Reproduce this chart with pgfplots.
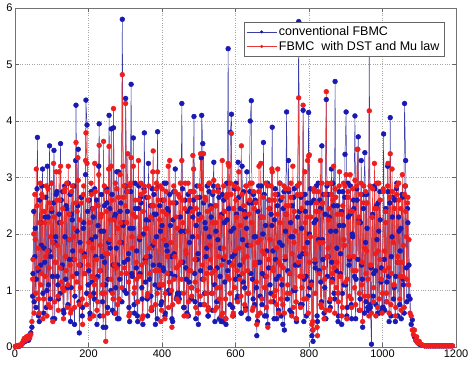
\documentclass[border=0pt]{standalone}
\usepackage{fontspec}
\setmainfont{Liberation Sans}
\usepackage{pgfplots}
\pgfplotsset{compat=1.18}
\usepackage{pgfplotstable}
\definecolor{bdot}{RGB}{25,25,180}
\definecolor{bline}{RGB}{60,60,165}
\definecolor{rdot}{RGB}{238,30,30}
\definecolor{rline}{RGB}{230,55,55}

\pgfplotstableread{
x b r
1 0.01 0.01
4 0.01 0.02
7 0.02 0.01
10 0.01 0.03
13 0.02 0.02
16 0.03 0.04
19 0.05 0.06
22 0.08 0.10
25 0.12 0.15
28 0.10 0.12
31 0.15 0.18
34 0.18 0.14
37 0.12 0.20
40 0.20 0.16
43 0.25 0.22
46 0.35 0.45
49 1.30 1.55
52 0.80 0.60
55 2.10 1.90
58 1.20 3.15
61 3.71 1.40
64 0.55 0.85
67 2.60 2.20
70 1.45 1.10
73 2.85 2.70
76 0.95 0.50
79 1.75 2.40
82 2.30 1.25
85 0.70 2.85
88 3.20 1.70
91 1.10 0.75
94 3.56 2.55
97 1.60 1.95
100 2.40 2.90
103 0.50 0.45
106 3.48 2.30
109 1.85 1.50
112 2.70 3.10
115 1.25 1.80
118 0.85 0.65
121 2.20 2.60
124 3.60 3.20
127 1.40 1.15
130 2.75 2.45
133 0.60 1.00
136 1.95 2.80
139 2.50 1.35
142 1.05 0.70
145 2.90 3.20
148 1.55 1.90
151 0.45 0.60
154 2.35 2.75
157 1.70 1.25
160 2.85 2.10
163 0.90 1.55
166 4.28 3.62
169 2.05 2.40
172 3.50 2.95
175 0.25 0.75
178 1.45 1.05
181 2.65 2.55
184 0.70 0.40
187 2.20 2.85
190 1.30 1.60
193 4.37 3.79
196 3.93 3.25
199 1.10 1.45
202 2.60 2.20
205 0.55 0.90
208 1.90 2.70
211 2.45 1.75
214 0.95 0.55
217 2.80 3.25
220 1.60 1.20
223 0.40 0.65
226 2.15 2.50
229 3.95 3.57
232 1.35 1.80
235 2.70 2.35
238 0.80 1.10
241 2.05 3.64
244 1.50 0.95
247 0.35 0.10
250 2.55 2.75
253 1.20 1.65
256 4.10 3.55
259 1.75 2.25
262 3.86 3.20
265 0.65 0.95
268 3.88 4.22
271 2.30 1.45
274 1.05 0.60
277 3.10 2.80
280 1.45 2.10
283 0.50 0.85
286 2.40 3.05
289 1.85 1.30
292 5.80 4.82
295 2.20 2.65
298 1.00 1.40
301 4.40 4.31
304 2.75 2.20
307 1.55 3.42
310 0.70 0.55
313 2.10 2.85
316 4.65 3.35
319 1.25 1.75
322 3.70 3.20
325 0.60 1.05
328 2.45 2.30
331 1.70 1.20
334 0.45 0.80
337 2.85 2.60
340 1.30 1.95
343 2.55 2.90
346 0.85 0.50
349 2.00 2.40
352 3.79 2.75
355 1.15 1.50
358 2.65 2.10
361 0.55 0.95
364 2.25 2.85
367 1.60 1.30
370 0.90 0.65
373 2.80 2.50
376 1.45 3.47
379 2.35 1.85
382 0.40 0.75
385 1.95 2.90
388 3.81 3.10
391 1.05 1.35
394 2.50 2.25
397 0.75 0.45
400 2.15 2.80
403 1.40 1.10
406 2.90 2.60
409 0.60 0.95
412 1.80 2.35
415 2.45 1.60
418 1.00 0.70
421 2.70 3.30
424 1.30 1.85
427 0.50 0.35
430 2.25 2.55
433 1.65 1.20
436 3.15 2.75
439 0.85 1.40
442 0.95 2.10
445 0.90 0.80
448 0.95 2.65
451 2.05 1.50
454 4.31 3.30
457 1.50 2.20
460 0.70 0.55
463 2.60 2.90
466 1.20 1.65
469 2.40 2.05
472 0.55 0.80
475 1.85 2.60
478 2.75 1.35
481 1.05 0.90
484 2.30 3.39
487 4.08 2.75
490 0.80 1.15
493 2.15 2.45
496 1.55 1.00
499 0.40 0.60
502 2.65 2.85
505 1.35 3.42
508 4.10 2.30
511 3.60 3.42
514 0.75 1.20
517 2.20 2.65
520 1.60 0.95
523 2.85 2.40
526 0.55 0.70
529 1.95 2.90
532 2.50 1.55
535 0.95 1.30
538 2.70 2.20
541 3.27 2.95
544 0.45 0.65
547 2.05 2.50
550 1.40 1.05
553 2.80 2.75
556 0.50 0.85
559 1.75 2.30
562 2.35 1.45
565 0.45 0.60
568 2.60 2.85
571 1.15 1.60
574 0.40 0.50
577 2.25 2.70
580 5.28 3.25
583 1.50 1.20
586 3.80 2.90
589 4.12 3.78
592 0.70 0.55
595 2.10 2.45
598 1.65 1.05
601 2.90 2.60
604 0.85 1.35
607 3.27 2.80
610 1.25 1.75
613 2.45 2.15
616 0.60 3.56
619 1.90 1.30
622 2.75 2.50
625 1.05 0.75
628 2.30 2.85
631 3.10 1.60
634 0.50 0.95
637 2.55 2.35
640 4.00 2.90
643 4.36 2.20
646 1.20 0.65
649 2.70 2.75
652 0.75 1.45
655 1.95 2.55
658 0.20 0.40
661 2.40 1.85
664 1.50 3.20
667 0.90 0.60
670 2.85 2.30
673 1.30 1.70
676 3.62 2.65
679 0.55 1.05
682 2.15 2.90
685 1.70 1.25
688 0.40 0.35
691 2.60 2.45
694 1.10 1.90
697 2.35 2.85
700 3.89 3.10
703 0.80 1.35
706 2.25 2.60
709 1.55 1.00
712 0.50 0.75
715 2.70 3.15
718 1.25 1.50
721 2.90 2.20
724 0.55 0.85
727 1.80 2.65
730 2.45 1.40
733 0.30 0.60
736 2.05 2.80
739 4.16 2.35
742 1.35 1.10
745 2.75 2.50
748 0.65 0.95
751 1.95 2.90
754 2.50 1.65
757 1.00 0.70
760 2.80 2.40
763 1.45 2.05
766 0.45 0.50
769 2.30 2.85
772 5.76 4.41
775 1.60 1.25
778 2.65 2.70
781 0.75 1.05
784 4.19 4.28
787 1.20 1.75
790 2.40 2.20
793 0.55 0.85
796 1.85 3.30
799 4.15 3.38
802 1.05 1.50
805 2.55 2.30
808 0.20 0.40
811 0.10 0.30
814 2.20 2.75
817 1.40 0.95
820 2.85 2.55
823 0.45 0.20
826 1.90 2.40
829 2.60 1.30
832 1.15 0.75
835 3.56 2.90
838 1.55 1.85
841 0.60 0.50
844 2.35 2.70
847 4.38 4.52
850 1.25 1.60
853 2.70 2.25
856 0.80 0.65
859 2.05 2.90
862 1.50 1.15
865 2.90 2.60
868 0.95 1.40
871 4.70 2.80
874 1.35 1.05
877 2.50 2.35
880 0.55 0.80
883 2.15 3.10
886 1.65 1.25
889 0.40 0.55
892 2.75 2.50
895 1.10 1.90
898 3.41 2.85
901 4.16 3.05
904 0.70 1.20
907 2.30 2.65
910 1.55 0.90
913 2.85 2.40
916 0.50 0.70
919 1.95 2.80
922 2.45 1.60
925 4.09 2.95
928 1.20 1.35
931 2.60 3.50
934 3.72 2.20
937 0.65 0.95
940 2.20 2.70
943 1.45 1.10
946 0.35 0.45
949 2.70 2.85
952 3.44 1.75
955 0.80 1.30
958 2.10 2.55
961 0.65 0.90
964 5.40 4.18
967 0.70 1.45
970 0.05 0.60
973 2.35 2.80
976 1.30 1.05
979 2.80 2.45
982 0.75 0.55
985 1.90 2.90
988 2.55 1.70
991 0.60 0.85
994 2.25 2.60
997 1.40 1.20
1000 0.70 0.95
1003 3.77 2.75
1006 0.65 1.35
1009 2.45 2.20
1012 1.15 0.80
1015 2.75 3.25
1018 0.45 0.60
1021 4.06 3.42
1024 1.60 1.30
1027 2.30 2.75
1030 0.85 1.10
1033 2.60 2.45
1036 1.25 0.70
1039 2.90 2.85
1042 0.55 1.50
1045 2.05 2.60
1048 1.70 1.25
1051 0.50 0.65
1054 2.65 3.05
1057 1.10 1.80
1060 4.31 2.70
1063 3.30 2.40
1066 0.80 1.20
1069 2.20 2.65
1072 1.45 1.90
1075 0.85 0.60
1078 0.40 0.55
1081 0.48 0.30
1084 0.30 0.22
1087 0.18 0.30
1090 0.15 0.12
1093 0.10 0.18
1096 0.08 0.07
1100 0.05 0.10
1105 0.04 0.05
1110 0.03 0.03
1115 0.02 0.02
1120 0.02 0.02
1125 0.02 0.02
1130 0.02 0.02
1135 0.02 0.02
1140 0.02 0.02
1145 0.02 0.02
1150 0.02 0.02
1155 0.02 0.02
1160 0.02 0.02
1165 0.02 0.02
1170 0.02 0.02
1175 0.02 0.02
1180 0.02 0.02
1185 0.02 0.02
1190 0.02 0.02
}\data

\pgfplotstableread{
x b r
48 0.90 1.20
51 2.40 2.00
54 1.60 2.70
57 0.70 0.95
60 2.80 2.50
63 1.35 1.75
66 0.45 0.60
69 2.20 2.90
72 1.80 1.30
75 3.15 2.65
78 0.60 0.85
81 1.50 2.20
84 2.65 1.60
87 1.00 0.55
90 2.30 2.80
93 1.70 1.40
96 0.85 0.70
99 2.90 2.45
102 1.25 1.85
105 2.55 3.25
108 0.50 0.80
111 1.95 1.50
114 2.75 2.60
117 1.10 0.90
120 2.35 3.10
123 0.95 1.40
126 2.60 2.20
129 1.45 1.05
132 0.65 0.50
135 2.85 2.75
138 1.20 1.60
141 2.45 2.90
144 0.75 1.10
147 1.90 2.35
150 2.70 1.45
153 1.05 0.65
156 2.25 2.85
159 1.55 1.95
162 0.40 0.70
165 3.30 2.55
168 1.30 1.15
171 2.50 3.35
174 0.80 1.45
177 1.85 2.25
180 2.65 1.70
183 0.55 0.85
186 2.10 2.70
189 1.65 1.30
192 3.05 3.30
195 0.95 0.75
198 2.40 2.60
201 1.35 1.85
204 0.60 0.50
207 2.75 2.90
210 1.15 1.25
213 2.30 2.45
216 0.85 1.10
219 1.95 2.75
222 2.60 1.55
225 1.25 0.80
228 3.20 3.05
231 0.55 1.35
234 2.05 2.30
237 1.60 0.95
240 0.35 0.55
243 2.50 2.85
246 1.10 1.65
249 2.80 2.40
252 0.70 0.60
255 1.85 3.15
258 2.45 1.90
261 1.00 1.20
264 2.70 2.60
267 1.45 0.85
270 0.60 2.25
273 2.35 2.90
276 1.75 1.40
279 0.50 0.75
282 3.10 2.65
285 1.20 1.85
288 2.55 2.20
291 0.80 1.05
294 2.15 3.20
297 1.50 2.85
300 2.85 2.50
303 0.95 1.30
306 2.40 2.75
309 1.65 1.15
312 0.45 0.60
315 2.75 2.90
318 1.30 1.95
321 2.10 2.35
324 0.75 0.95
327 2.90 2.60
330 1.40 1.50
333 0.55 0.80
336 2.45 3.30
339 1.90 1.25
342 2.65 2.70
345 1.05 1.45
348 0.40 0.55
351 2.80 2.85
354 1.55 2.10
357 2.25 1.60
360 0.85 0.90
363 3.25 2.65
366 1.20 1.75
369 2.50 2.30
372 0.65 0.70
375 1.80 3.10
378 2.70 2.50
381 1.10 1.35
384 2.35 2.80
387 0.50 0.95
390 2.85 2.60
393 1.45 1.10
396 2.05 2.85
399 0.80 0.65
402 2.60 2.40
405 1.35 1.90
408 0.55 0.50
411 2.90 2.75
414 1.70 1.30
417 2.40 3.20
420 0.95 1.15
423 2.15 2.55
426 1.60 1.00
429 0.45 0.75
432 2.75 2.85
435 1.25 1.60
438 2.55 2.30
441 0.90 0.85
444 0.95 2.70
447 0.85 1.45
450 2.30 2.90
453 1.50 1.20
456 2.80 2.60
459 0.70 0.95
462 2.05 2.45
465 1.40 1.70
468 0.60 0.55
471 2.70 2.90
474 1.15 1.35
477 2.45 2.75
480 0.85 1.05
483 1.95 2.40
486 2.60 3.15
489 1.30 1.55
492 0.50 0.70
495 2.85 2.65
498 1.65 1.95
501 2.35 2.25
504 0.75 0.90
507 3.35 2.80
510 1.20 1.45
513 2.55 3.42
516 0.95 0.75
519 2.10 2.60
522 1.75 1.30
525 0.55 0.65
528 2.75 2.90
531 1.40 1.80
534 2.30 2.45
537 0.65 0.95
540 2.85 2.75
543 1.10 1.35
546 2.50 2.20
549 0.80 0.70
552 1.90 2.85
555 2.65 1.60
558 1.25 1.05
561 0.45 0.55
564 2.70 3.30
567 1.55 1.75
570 2.20 2.40
573 0.50 0.85
576 2.90 2.65
579 1.35 1.25
582 2.45 3.20
585 0.75 0.95
588 2.05 2.70
591 1.60 1.45
594 0.55 0.60
597 2.80 2.85
600 1.20 1.70
603 2.35 2.30
606 0.90 0.80
609 2.65 3.10
612 1.45 1.20
615 0.60 0.90
618 3.20 2.70
621 1.15 1.55
624 2.40 2.35
627 0.70 0.65
630 2.10 2.85
633 1.80 1.35
636 0.50 0.95
639 2.75 2.60
642 1.30 1.80
645 2.55 2.90
648 0.85 0.70
651 1.95 2.45
654 2.60 1.50
657 1.05 1.15
660 0.45 0.55
663 2.85 2.75
666 1.50 1.90
669 2.30 3.25
672 0.75 0.85
675 2.00 2.30
678 2.70 1.65
681 1.25 1.05
684 0.55 0.70
687 2.90 2.85
690 1.40 1.55
693 2.45 2.60
696 0.95 0.80
699 2.15 3.15
702 1.70 1.40
705 0.50 0.90
708 2.80 2.70
711 1.20 1.75
714 2.50 2.35
717 0.65 0.60
720 1.85 2.90
723 2.60 1.45
726 1.10 1.20
729 0.40 0.75
732 2.75 2.85
735 1.55 1.60
738 2.35 2.50
741 0.85 0.95
744 3.30 2.80
747 1.30 1.30
750 2.20 2.65
753 0.60 0.55
756 1.95 3.20
759 2.65 1.85
762 1.00 1.05
765 0.50 0.80
768 2.85 2.70
771 1.45 1.50
774 2.40 2.90
777 0.75 0.70
780 2.10 2.45
783 1.65 1.25
786 0.45 0.85
789 2.70 3.10
792 1.25 1.65
795 2.55 2.30
798 0.90 0.60
801 2.00 3.40
804 2.80 1.95
807 1.15 1.10
810 0.30 0.45
813 2.60 2.80
816 1.50 1.55
819 2.25 2.40
822 0.55 0.35
825 2.90 2.75
828 1.35 1.85
831 2.45 3.30
834 0.80 0.70
837 1.90 2.55
840 2.70 1.40
843 1.05 1.20
846 0.50 0.65
849 2.85 2.90
852 1.60 1.75
855 2.30 2.45
858 0.70 0.85
861 3.15 2.70
864 1.20 1.30
867 2.50 3.20
870 0.85 0.60
873 2.05 2.65
876 1.75 1.50
879 0.45 0.95
882 2.75 2.85
885 1.30 1.25
888 2.40 2.35
891 0.95 0.70
894 2.15 2.90
897 2.65 1.80
900 1.10 1.15
903 0.55 0.50
906 2.90 2.75
909 1.45 1.60
912 2.35 3.05
915 0.75 0.85
918 2.00 2.40
921 2.60 1.35
924 1.25 1.05
927 0.50 0.75
930 2.80 2.85
933 1.55 3.50
936 2.25 2.30
939 0.85 0.65
942 3.30 2.90
945 1.20 1.50
948 2.45 2.55
951 0.60 0.90
954 1.85 2.75
957 2.70 1.70
960 0.70 1.20
963 0.65 0.55
966 0.75 2.85
969 1.40 1.45
972 2.30 2.30
975 0.90 0.80
978 2.85 3.25
981 1.35 1.65
984 2.50 2.45
987 0.60 0.70
990 2.05 2.90
993 2.75 1.55
996 1.15 1.20
999 0.65 0.60
1002 0.70 2.80
1005 1.55 1.70
1008 2.40 2.40
1011 0.80 0.95
1014 3.20 2.85
1017 1.25 1.40
1020 2.55 2.65
1023 0.55 0.75
1026 1.95 3.15
1029 2.65 1.85
1032 1.05 1.10
1035 0.45 0.55
1038 2.80 2.70
1041 1.50 1.60
1044 2.30 2.90
1047 0.75 0.85
1050 2.10 2.45
1053 2.70 1.50
1056 1.20 1.25
1059 0.60 0.70
1062 2.85 2.85
1065 1.40 1.95
1068 2.45 2.55
1071 0.90 1.10
}\extra

\begin{document}
\begin{tikzpicture}
\begin{axis}[
  at={(0,0)}, anchor=south west,
  scale only axis, width=441pt, height=339pt,
  xmin=0, xmax=1200, ymin=0, ymax=6,
  xtick={0,200,...,1200}, ytick={0,1,...,6},
  grid=major, grid style={dotted, black!35},
  tick align=inside, major tick length=4pt,
  tick style={black!60},
  axis line style={black!55},
  tick label style={font=\fontsize{11}{13}\selectfont},
  /pgf/number format/assume math mode=true,
  /pgf/number format/1000 sep={},
  xticklabel style={yshift=1pt},
  yticklabel style={xshift=1pt},
  legend cell align=left,
  legend style={at={(0.973,0.959)}, anchor=north east, draw=black!60,
    font=\fontsize{12.5}{15}\selectfont, inner sep=2.5pt,
    row sep=0pt},
  legend image code/.code={\draw[mark repeat=2,mark phase=2,#1,mark size=1.3pt] plot coordinates {(0pt,0pt) (15pt,0pt) (30pt,0pt)};},
]
\addplot[color=bline, line width=0.5pt, mark=*, mark size=2.4pt,
  mark options={draw=bdot, fill=bdot}] table[x=x, y=b] {\data};
\addlegendentry{conventional FBMC}
\addplot[forget plot, color=bline, line width=0.5pt, mark=*, mark size=2.4pt,
  mark options={draw=bdot, fill=bdot}] table[x=x, y=b] {\extra};
\addplot[color=rline, line width=0.5pt, mark=*, mark size=2.4pt,
  mark options={draw=rdot, fill=rdot}] table[x=x, y=r] {\data};
\addlegendentry{FBMC\ \ with DST and Mu law}
\addplot[forget plot, color=rline, line width=0.5pt, mark=*, mark size=2.4pt,
  mark options={draw=rdot, fill=rdot}] table[x=x, y=r] {\extra};
\end{axis}
\path (-15pt,-21pt) rectangle (459pt,347pt);
\end{tikzpicture}
\end{document}
